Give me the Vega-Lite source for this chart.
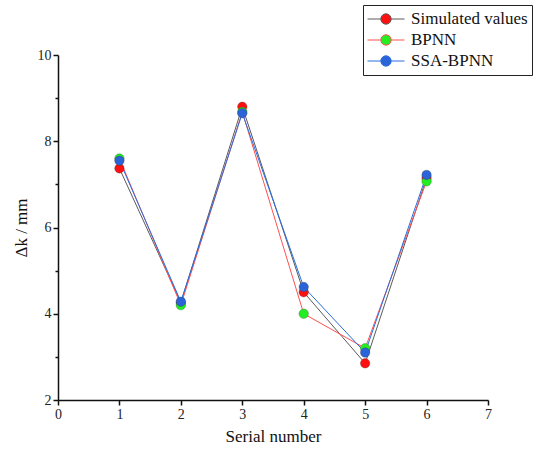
{
  "$schema": "https://vega.github.io/schema/vega-lite/v6.json",
  "autosize": {"type": "none"},
  "width": 430,
  "height": 345,
  "padding": {"left": 58, "top": 55, "right": 62, "bottom": 57},
  "background": "white",
  "data": {
    "values": [
      {"serial": 1, "series": "Simulated values", "value": 7.37},
      {"serial": 2, "series": "Simulated values", "value": 4.26},
      {"serial": 3, "series": "Simulated values", "value": 8.8},
      {"serial": 4, "series": "Simulated values", "value": 4.5},
      {"serial": 5, "series": "Simulated values", "value": 2.85},
      {"serial": 6, "series": "Simulated values", "value": 7.15},
      {"serial": 1, "series": "BPNN", "value": 7.6},
      {"serial": 2, "series": "BPNN", "value": 4.2},
      {"serial": 3, "series": "BPNN", "value": 8.68},
      {"serial": 4, "series": "BPNN", "value": 4.0},
      {"serial": 5, "series": "BPNN", "value": 3.2},
      {"serial": 6, "series": "BPNN", "value": 7.07},
      {"serial": 1, "series": "SSA-BPNN", "value": 7.55},
      {"serial": 2, "series": "SSA-BPNN", "value": 4.28},
      {"serial": 3, "series": "SSA-BPNN", "value": 8.65},
      {"serial": 4, "series": "SSA-BPNN", "value": 4.62},
      {"serial": 5, "series": "SSA-BPNN", "value": 3.1},
      {"serial": 6, "series": "SSA-BPNN", "value": 7.22}
    ]
  },
  "encoding": {
    "x": {
      "field": "serial",
      "type": "quantitative",
      "title": "Serial number",
      "scale": {"domain": [0, 7], "nice": false, "zero": false},
      "axis": {"values": [0, 1, 2, 3, 4, 5, 6, 7], "grid": false, "labelAngle": 0, "labelFlush": false, "titlePadding": 7}
    },
    "y": {
      "field": "value",
      "type": "quantitative",
      "title": "Δk / mm",
      "scale": {"domain": [2, 10], "nice": false, "zero": false},
      "axis": {
        "values": [2, 3, 4, 5, 6, 7, 8, 9, 10],
        "grid": false,
        "labelFlush": false,
        "labelExpr": "datum.value % 2 == 0 ? datum.label : ''",
        "tickSize": {"condition": {"test": "datum.value % 2 == 1", "value": 3}, "value": 5},
        "titlePadding": 7
      }
    }
  },
  "layer": [
    {
      "mark": {"type": "line", "strokeWidth": 1},
      "encoding": {
        "stroke": {
          "field": "series",
          "type": "nominal",
          "title": null,
          "scale": {"domain": ["Simulated values", "BPNN", "SSA-BPNN"], "range": ["#5a5a5a", "#ff5050", "#2a6ee0"]}
        }
      }
    },
    {
      "mark": {"type": "point", "filled": true, "size": 90, "opacity": 1, "stroke": "#333", "strokeWidth": 0.3},
      "encoding": {
        "fill": {
          "field": "series",
          "type": "nominal",
          "title": null,
          "scale": {"domain": ["Simulated values", "BPNN", "SSA-BPNN"], "range": ["#ff1010", "#22ee22", "#2a64d8"]},
          "legend": {
            "orient": "none",
            "legendX": 305,
            "legendY": -50,
            "strokeColor": "#222",
            "padding": 4,
            "symbolType": "M-1,0L-0.28,0M0.28,0L1,0M0.28,0A0.28,0.28 0 1,1 -0.28,0A0.28,0.28 0 1,1 0.28,0Z",
            "symbolSize": 1369,
            "symbolStrokeWidth": 1,
            "clipHeight": 20,
            "labelFont": "Liberation Serif, Times New Roman, Times, serif",
            "labelFontSize": 17,
            "labelColor": "#111",
            "labelOffset": 6,
            "rowPadding": 1,
            "encode": {
              "symbols": {"update": {"stroke": {"scale": "stroke", "field": "value"}, "fill": {"scale": "fill", "field": "value"}, "opacity": {"value": 1}}}
            }
          }
        }
      }
    }
  ],
  "config": {
    "font": "Liberation Serif, Times New Roman, Times, serif",
    "view": {"stroke": null},
    "axis": {
      "domainColor": "#111",
      "domainWidth": 1.5,
      "tickColor": "#111",
      "tickWidth": 1.5,
      "tickSize": 5,
      "labelFont": "Liberation Serif, Times New Roman, Times, serif",
      "labelFontSize": 14,
      "labelColor": "#222",
      "titleFont": "Liberation Serif, Times New Roman, Times, serif",
      "titleFontSize": 17,
      "titleFontWeight": "normal",
      "titleColor": "#111"
    }
  }
}
